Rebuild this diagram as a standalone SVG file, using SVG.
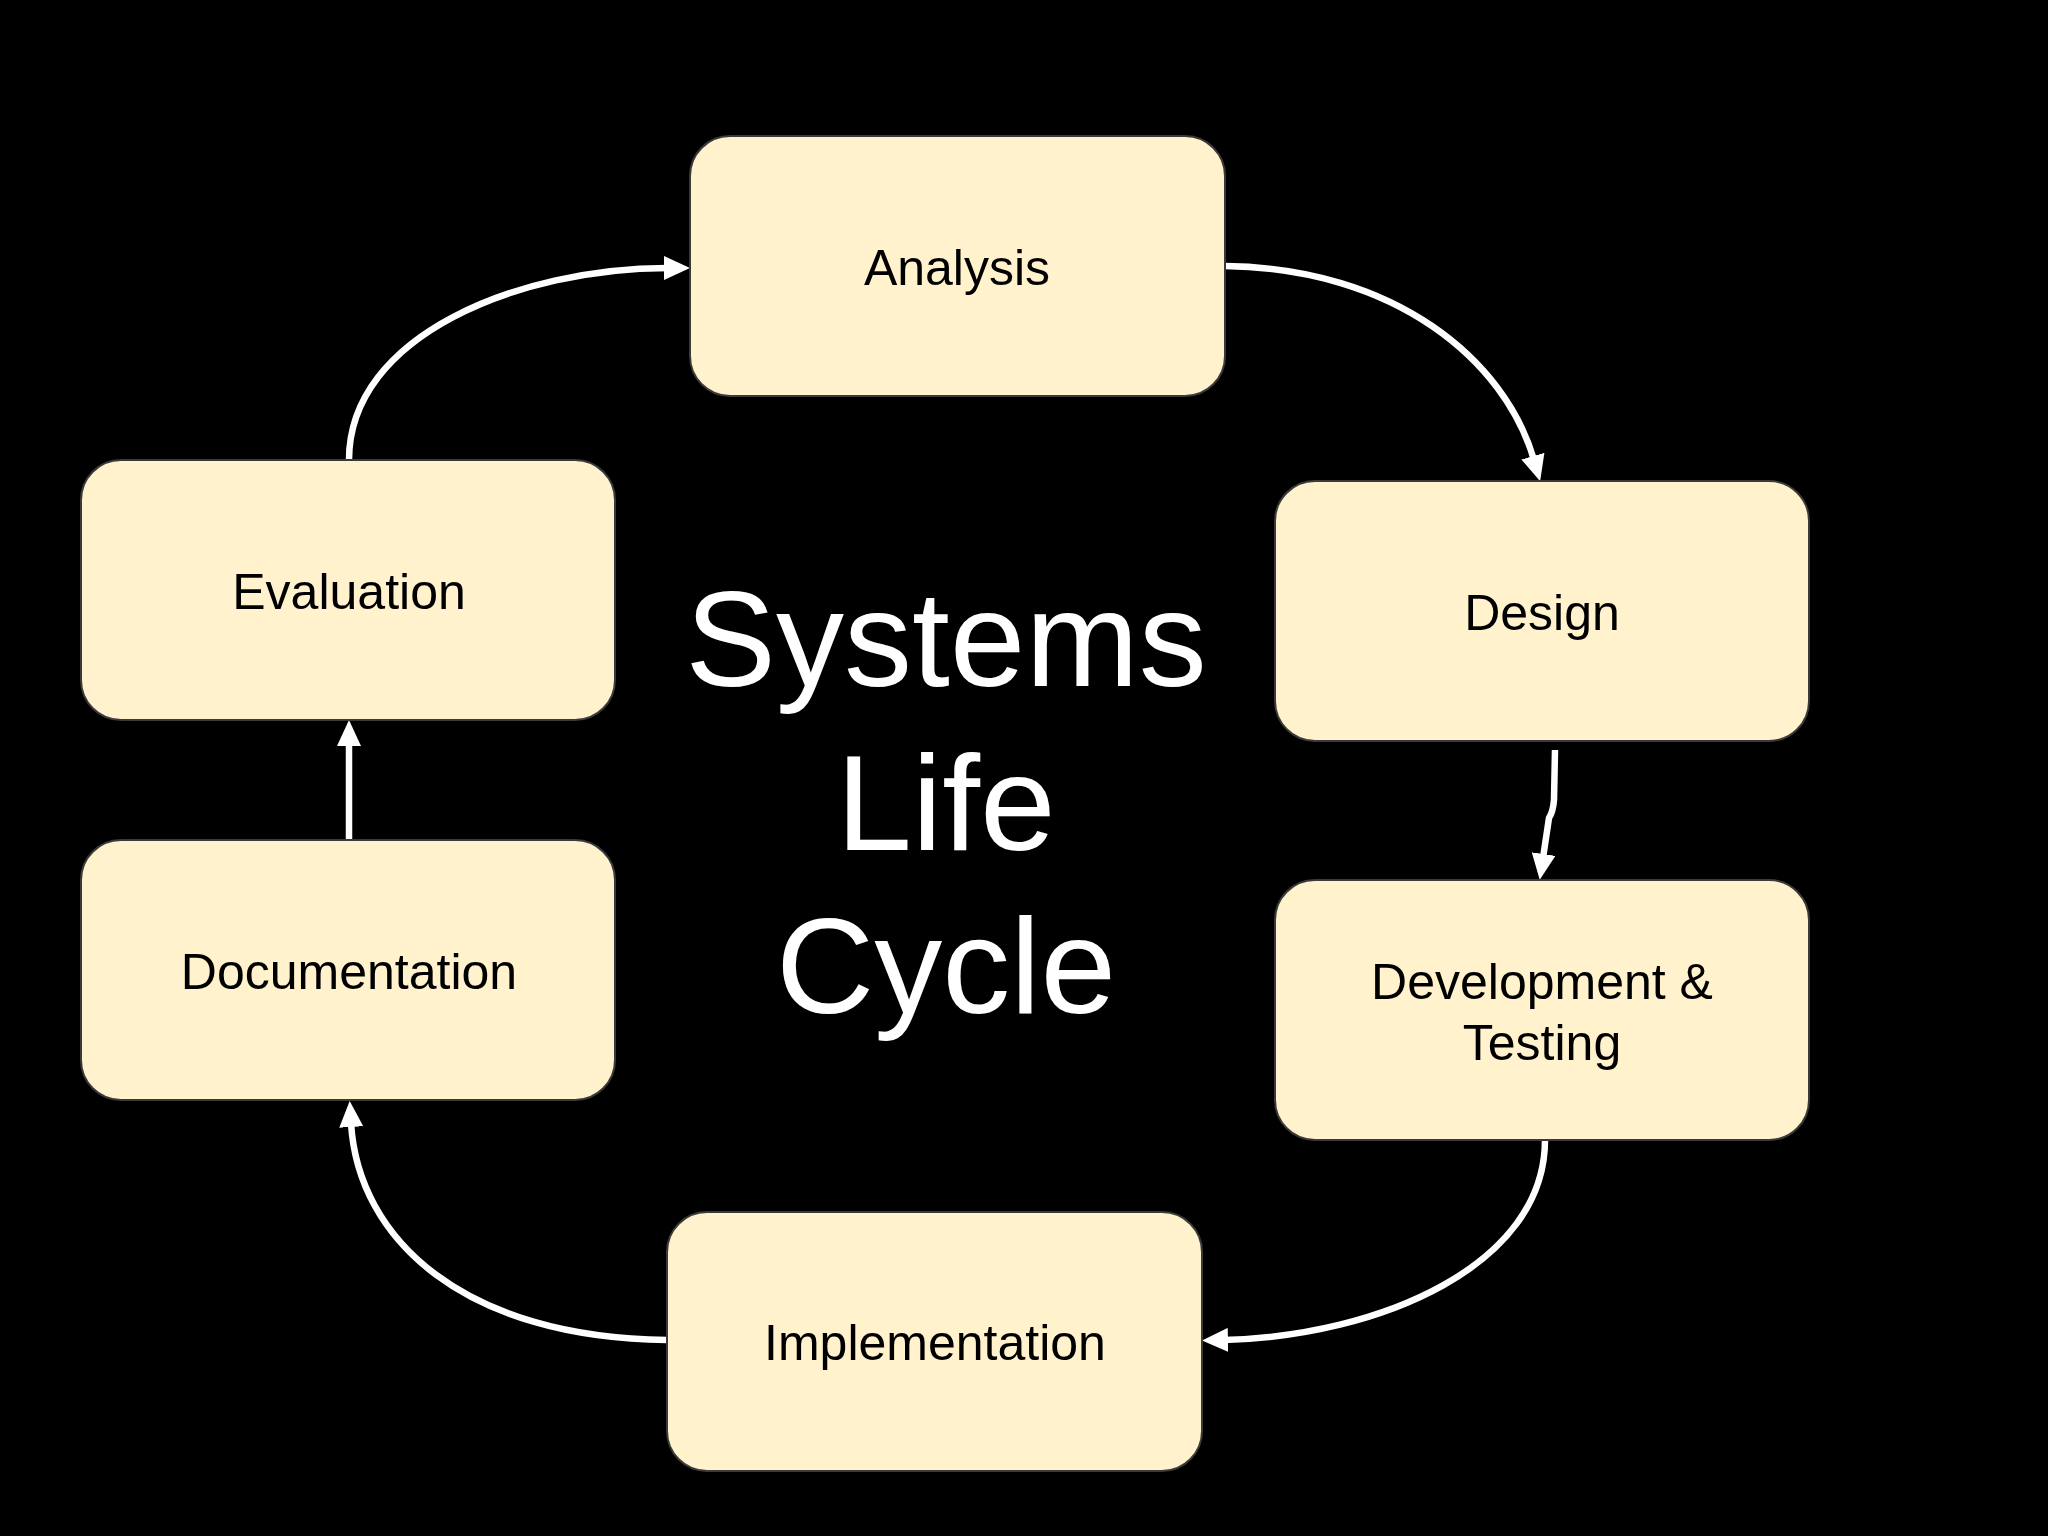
<svg xmlns="http://www.w3.org/2000/svg" width="2048" height="1536" viewBox="0 0 2048 1536">
  <defs>
    <style>
      .node rect { fill: #FFF2CC; stroke: #3a3a3a; stroke-width: 2; }
      .node text { font-family: "Liberation Sans", Arial, sans-serif; font-size: 50px; fill: #000; text-anchor: middle; }
      .title { font-family: "Liberation Sans", Arial, sans-serif; font-size: 136px; fill: #fff; text-anchor: middle; }
      .conn path { fill: none; stroke: #fff; stroke-width: 6.5; marker-end: url(#arrow); }
    </style>
    <marker id="arrow" viewBox="0 0 26 24" refX="4" refY="12" markerWidth="26" markerHeight="24" markerUnits="userSpaceOnUse" orient="auto">
      <path d="M0,0 L26,12 L0,24 z" fill="#fff"/>
    </marker>
  </defs>
  <rect x="0" y="0" width="2048" height="1536" fill="#000"/>

  <g id="connectors" class="conn">
    <path id="eval-analysis" d="M 349 460 C 349 335, 520 268, 668 268"/>
    <path id="analysis-design" d="M 1225 266 C 1395 268, 1505 360, 1534 460"/>
    <path id="design-dev" d="M 1555 750 L 1554 800 Q 1553 812 1549 818 L 1543 858"/>
    <path id="dev-impl" d="M 1545 1140 C 1545 1265, 1380 1336, 1224 1340"/>
    <path id="impl-doc" d="M 667 1340 C 465 1338, 358 1240, 351 1123"/>
    <path id="doc-eval" d="M 349 840 L 349 742"/>
  </g>

  <g id="analysis" class="node">
    <rect x="690" y="136" width="535" height="260" rx="40" ry="40"/>
    <text x="957" y="285">Analysis</text>
  </g>
  <g id="design" class="node">
    <rect x="1275" y="481" width="534" height="260" rx="40" ry="40"/>
    <text x="1542" y="630">Design</text>
  </g>
  <g id="development-testing" class="node">
    <rect x="1275" y="880" width="534" height="260" rx="40" ry="40"/>
    <text x="1542" y="999">Development &amp;</text>
    <text x="1542" y="1060">Testing</text>
  </g>
  <g id="implementation" class="node">
    <rect x="667" y="1212" width="535" height="259" rx="40" ry="40"/>
    <text x="935" y="1360">Implementation</text>
  </g>
  <g id="documentation" class="node">
    <rect x="81" y="840" width="534" height="260" rx="40" ry="40"/>
    <text x="349" y="989">Documentation</text>
  </g>
  <g id="evaluation" class="node">
    <rect x="81" y="460" width="534" height="260" rx="40" ry="40"/>
    <text x="349" y="609">Evaluation</text>
  </g>

  <g id="title">
    <text class="title" x="946" y="686">Systems</text>
    <text class="title" x="946" y="850">Life</text>
    <text class="title" x="946" y="1013">Cycle</text>
  </g>
</svg>
